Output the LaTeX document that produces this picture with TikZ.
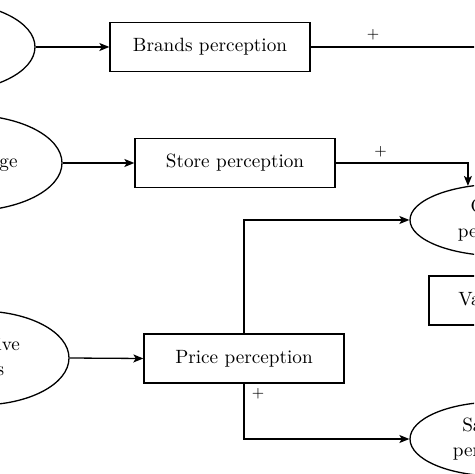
\documentclass[tikz,border=0pt]{standalone}
\usetikzlibrary{shapes.geometric,arrows.meta}
\begin{document}
\begin{tikzpicture}[x=0.5pt,y=-0.5pt, line width=0.65pt,
  box/.style={draw, rectangle, minimum width=100pt, minimum height=24.5pt, inner sep=0pt, font=\fontsize{9.6}{12}\selectfont},
  oval/.style={draw, ellipse, inner sep=0pt, align=center, font=\fontsize{9.6}{12.5}\selectfont},
  arr/.style={-{Stealth[length=5pt,width=4pt,inset=1.2pt]}},
  plus/.style={font=\fontsize{7.5}{9}\selectfont, inner sep=0pt}]
\useasboundingbox (0,0) rectangle (474,474);
\clip (0,0) rectangle (474,474);
\node[oval, minimum width=90pt, minimum height=45pt] (e1) at (-55,47) {};
\node[box] (b1) at (210,47) {Brands perception};
\node[oval, minimum width=94pt, minimum height=48pt] (e2) at (-32,163) {Store image};
\node[box] (b2) at (235,163) {Store perception};
\node[oval, minimum width=92pt, minimum height=36pt] (e3) at (502,220) {Quality\\perception};
\node[box] (v) at (529,300.5) {Value perception};
\node[oval, minimum width=89pt, minimum height=47pt] (e4) at (-20,358) {Objective\\prices};
\node[box] (b3) at (244,358.5) {Price perception};
\node[oval, minimum width=87pt, minimum height=37pt] (e5) at (497,439) {Sacrifice\\perception};
\coordinate (out1) at (500,47);
\draw[arr] (e1.east) -- (b1.west);
\draw (b1.east) -- node[plus, pos=0.33, yshift=6pt]{+} (out1);
\draw[arr] (e2.east) -- (b2.west);
\draw[arr] (b2.east) -| node[plus, pos=0.17, yshift=5.5pt]{+} (e3.135);
\draw[arr] (b3.north) |- (e3.west);
\draw[arr] (e4.east) -- (b3.west);
\draw[arr] (b3.south) |- node[plus, pos=0.095, xshift=7pt]{+} (e5.west);
\end{tikzpicture}
\end{document}
